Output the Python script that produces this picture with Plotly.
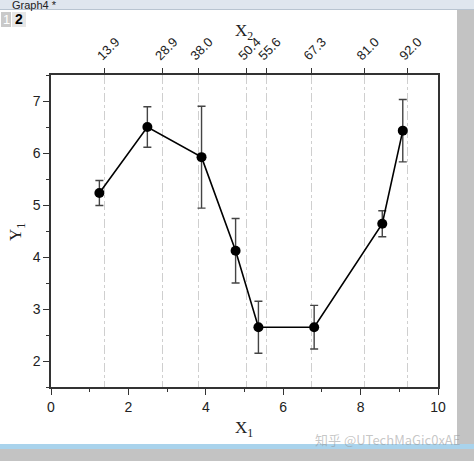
import plotly.graph_objects as go

# data
x1_values = [1.25, 2.49, 3.89, 4.77, 5.36, 6.80, 8.56, 9.09]
y1_values = [5.23, 6.50, 5.92, 4.12, 2.65, 2.65, 4.64, 6.43]
y1_errors = [0.24, 0.39, 0.98, 0.62, 0.50, 0.42, 0.25, 0.60]
x2_ticks = [13.9, 28.9, 38.0, 50.4, 55.6, 67.3, 81.0, 92.0]
x2_labels = ["13.9", "28.9", "38.0", "50.4", "55.6", "67.3", "81.0", "92.0"]

W, H = 474, 461
L, R, T, B = 51, 438, 75, 387


def px_x(p):
    return (p - L) / (R - L)


def px_y(p):
    return (B - p) / (B - T)


AXIS_FONT = dict(family="Liberation Sans, Arial", size=14, color="#222")
TOP_FONT = dict(family="Liberation Sans, Arial", size=13, color="#222")
TITLE_FONT = dict(family="Liberation Serif, Times New Roman", size=17, color="#222")

fig = go.Figure()
fig.add_trace(
    go.Scatter(
        x=x1_values,
        y=y1_values,
        mode="lines+markers",
        line=dict(color="black", width=1.6),
        marker=dict(color="black", size=10),
        error_y=dict(type="data", array=y1_errors, color="#444", thickness=1.4, width=4),
        showlegend=False,
    )
)
# invisible trace to bring the top axis in
fig.add_trace(
    go.Scatter(x=[0, 100], y=[None, None], xaxis="x2", yaxis="y", showlegend=False, hoverinfo="skip")
)

fig.update_layout(
    width=W,
    height=H,
    paper_bgcolor="white",
    plot_bgcolor="white",
    margin=dict(l=L, r=W - R, t=T, b=H - B, autoexpand=False),
    xaxis=dict(
        range=[0, 10],
        dtick=2,
        ticks="outside",
        ticklen=6,
        tickwidth=1.2,
        tickcolor="#333",
        showline=True,
        linecolor="#333",
        linewidth=1.5,
        mirror=True,
        showgrid=False,
        zeroline=False,
        automargin=False,
        tickfont=AXIS_FONT,
        minor=dict(dtick=1, ticks="outside", ticklen=3, tickcolor="#333", showgrid=False),
    ),
    xaxis2=dict(
        range=[0, 100],
        overlaying="x",
        side="top",
        tickvals=x2_ticks,
        ticktext=x2_labels,
        tickangle=-45,
        ticklabelshift=-7,
        ticks="outside",
        ticklen=6,
        tickwidth=1.2,
        tickcolor="#333",
        showline=False,
        showgrid=True,
        gridcolor="#cfcfcf",
        gridwidth=1,
        griddash="dashdot",
        zeroline=False,
        automargin=False,
        tickfont=TOP_FONT,
    ),
    yaxis=dict(
        range=[1.5, 7.5],
        dtick=1,
        ticks="outside",
        ticklen=6,
        tickwidth=1.2,
        tickcolor="#333",
        showline=True,
        linecolor="#333",
        linewidth=1.5,
        mirror=True,
        showgrid=False,
        zeroline=False,
        automargin=False,
        tickfont=AXIS_FONT,
        minor=dict(dtick=0.5, ticks="outside", ticklen=3, tickcolor="#333", showgrid=False),
    ),
)

# axis titles placed by hand
for text, x, y, angle in [
    ("X<sub>1</sub>", 244, 429, 0),
    ("X<sub>2</sub>", 244, 32, 0),
    ("Y<sub>1</sub>", 17, 232, -90),
]:
    fig.add_annotation(
        text=text, xref="paper", yref="paper", x=px_x(x), y=px_y(y), xanchor="center", yanchor="middle",
        showarrow=False, textangle=angle, font=TITLE_FONT,
    )

# window chrome around the graph page
chrome = [
    dict(x0=px_x(0), x1=px_x(W), y0=px_y(0), y1=px_y(9), fillcolor="#dfe6ee"),
    dict(x0=px_x(0), x1=px_x(W), y0=px_y(9), y1=px_y(10), fillcolor="#b8c4d0"),
    dict(x0=px_x(1), x1=px_x(11), y0=px_y(12), y1=px_y(27), fillcolor="#c9c9c9"),
    dict(x0=px_x(12), x1=px_x(26), y0=px_y(12), y1=px_y(27), fillcolor="#e6e6e6"),
    dict(x0=px_x(457), x1=px_x(W), y0=px_y(10), y1=px_y(H), fillcolor="#c3c3c3"),
    dict(x0=px_x(0), x1=px_x(W), y0=px_y(444), y1=px_y(449), fillcolor="#a9d3ec"),
    dict(x0=px_x(0), x1=px_x(W), y0=px_y(449), y1=px_y(H), fillcolor="#c3c3c3"),
]
for c in chrome:
    fig.add_shape(type="rect", xref="paper", yref="paper", line=dict(width=0), layer="above", **c)

fig.add_annotation(
    text="Graph4 *", xref="paper", yref="paper", x=px_x(10), y=px_y(5), xanchor="left", yanchor="middle",
    showarrow=False, font=dict(family="Liberation Sans, Arial", size=11, color="#222"),
)
fig.add_annotation(
    text="1", xref="paper", yref="paper", x=px_x(6), y=px_y(19.5), xanchor="center", yanchor="middle",
    showarrow=False, font=dict(family="Liberation Sans, Arial", size=13, color="white"),
)
fig.add_annotation(
    text="<b>2</b>", xref="paper", yref="paper", x=px_x(19), y=px_y(19.5), xanchor="center", yanchor="middle",
    showarrow=False, font=dict(family="Liberation Sans, Arial", size=14, color="black"),
)
fig.add_annotation(
    text="知乎 @UTechMaGic0xAE", xref="paper", yref="paper", x=px_x(W - 12), y=px_y(439), xanchor="right",
    yanchor="middle", showarrow=False,
    font=dict(family="Noto Sans CJK SC, Noto Sans", size=13, color="rgba(150,150,150,0.55)"),
)

# drop the browser's default body margin so the figure sits at the page corner
fig.write_html(
    "out.html",
    config={"displayModeBar": False},
    post_script="document.body.style.margin='0';",
)
